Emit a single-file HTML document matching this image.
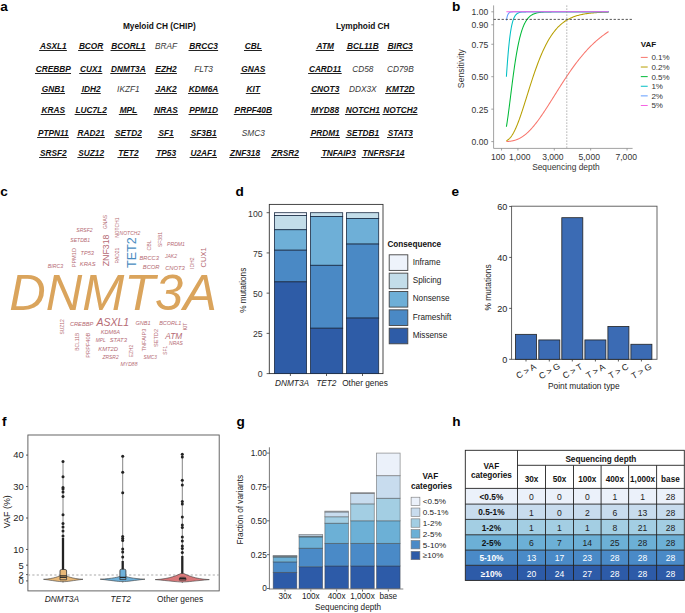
<!DOCTYPE html>
<html><head><meta charset="utf-8"><style>
html,body{margin:0;padding:0;background:#fff;width:685px;height:613px;overflow:hidden}
svg{display:block}
text{font-family:"Liberation Sans",sans-serif}
</style></head><body>
<svg width="685" height="613" viewBox="0 0 685 613">
<text x="0.3" y="10.9" font-size="13.6" font-weight="bold" fill="#000">a</text>
<text x="452" y="11" font-size="13.6" font-weight="bold" fill="#000">b</text>
<text x="0.3" y="196.2" font-size="13.6" font-weight="bold" fill="#000">c</text>
<text x="235.5" y="196.3" font-size="13.6" font-weight="bold" fill="#000">d</text>
<text x="451.6" y="195.6" font-size="13.6" font-weight="bold" fill="#000">e</text>
<text x="2.1" y="425.7" font-size="13.6" font-weight="bold" fill="#000">f</text>
<text x="236.4" y="425.7" font-size="13.6" font-weight="bold" fill="#000">g</text>
<text x="452.2" y="426.1" font-size="13.6" font-weight="bold" fill="#000">h</text>
<text x="53.30" y="49.00" font-size="8.3" font-weight="bold" font-style="italic" text-anchor="middle" fill="#111" >ASXL1</text>
<line x1="39.12" y1="50.50" x2="66.88" y2="50.50" stroke="#222" stroke-width="1.0" />
<text x="91.10" y="49.00" font-size="8.3" font-weight="bold" font-style="italic" text-anchor="middle" fill="#111" >BCOR</text>
<line x1="78.08" y1="50.50" x2="103.52" y2="50.50" stroke="#222" stroke-width="1.0" />
<text x="128.40" y="49.00" font-size="8.3" font-weight="bold" font-style="italic" text-anchor="middle" fill="#111" >BCORL1</text>
<line x1="110.54" y1="50.50" x2="145.66" y2="50.50" stroke="#222" stroke-width="1.0" />
<text x="166.10" y="48.97" font-size="8.3" font-weight="normal" font-style="italic" text-anchor="middle" fill="#3a3a3a" >BRAF</text>
<text x="203.60" y="49.00" font-size="8.3" font-weight="bold" font-style="italic" text-anchor="middle" fill="#111" >BRCC3</text>
<line x1="188.50" y1="50.50" x2="218.10" y2="50.50" stroke="#222" stroke-width="1.0" />
<text x="253.30" y="49.00" font-size="8.3" font-weight="bold" font-style="italic" text-anchor="middle" fill="#111" >CBL</text>
<line x1="243.97" y1="50.50" x2="262.03" y2="50.50" stroke="#222" stroke-width="1.0" />
<text x="53.30" y="72.00" font-size="8.3" font-weight="bold" font-style="italic" text-anchor="middle" fill="#111" >CREBBP</text>
<line x1="34.98" y1="73.50" x2="71.02" y2="73.50" stroke="#222" stroke-width="1.0" />
<text x="91.10" y="72.00" font-size="8.3" font-weight="bold" font-style="italic" text-anchor="middle" fill="#111" >CUX1</text>
<line x1="79.23" y1="73.50" x2="102.37" y2="73.50" stroke="#222" stroke-width="1.0" />
<text x="128.40" y="72.00" font-size="8.3" font-weight="bold" font-style="italic" text-anchor="middle" fill="#111" >DNMT3A</text>
<line x1="110.31" y1="73.50" x2="145.89" y2="73.50" stroke="#222" stroke-width="1.0" />
<text x="166.10" y="72.00" font-size="8.3" font-weight="bold" font-style="italic" text-anchor="middle" fill="#111" >EZH2</text>
<line x1="154.69" y1="73.50" x2="176.91" y2="73.50" stroke="#222" stroke-width="1.0" />
<text x="203.60" y="71.97" font-size="8.3" font-weight="normal" font-style="italic" text-anchor="middle" fill="#3a3a3a" >FLT3</text>
<text x="253.30" y="72.00" font-size="8.3" font-weight="bold" font-style="italic" text-anchor="middle" fill="#111" >GNAS</text>
<line x1="240.51" y1="73.50" x2="265.49" y2="73.50" stroke="#222" stroke-width="1.0" />
<text x="53.30" y="92.00" font-size="8.3" font-weight="bold" font-style="italic" text-anchor="middle" fill="#111" >GNB1</text>
<line x1="40.97" y1="93.50" x2="65.03" y2="93.50" stroke="#222" stroke-width="1.0" />
<text x="91.10" y="92.00" font-size="8.3" font-weight="bold" font-style="italic" text-anchor="middle" fill="#111" >IDH2</text>
<line x1="80.84" y1="93.50" x2="100.76" y2="93.50" stroke="#222" stroke-width="1.0" />
<text x="128.40" y="92.07" font-size="8.3" font-weight="normal" font-style="italic" text-anchor="middle" fill="#3a3a3a" >IKZF1</text>
<text x="166.10" y="92.00" font-size="8.3" font-weight="bold" font-style="italic" text-anchor="middle" fill="#111" >JAK2</text>
<line x1="154.69" y1="93.50" x2="176.91" y2="93.50" stroke="#222" stroke-width="1.0" />
<text x="203.60" y="92.00" font-size="8.3" font-weight="bold" font-style="italic" text-anchor="middle" fill="#111" >KDM6A</text>
<line x1="188.04" y1="93.50" x2="218.56" y2="93.50" stroke="#222" stroke-width="1.0" />
<text x="253.30" y="92.00" font-size="8.3" font-weight="bold" font-style="italic" text-anchor="middle" fill="#111" >KIT</text>
<line x1="245.81" y1="93.50" x2="260.19" y2="93.50" stroke="#222" stroke-width="1.0" />
<text x="53.30" y="113.00" font-size="8.3" font-weight="bold" font-style="italic" text-anchor="middle" fill="#111" >KRAS</text>
<line x1="40.74" y1="114.50" x2="65.26" y2="114.50" stroke="#222" stroke-width="1.0" />
<text x="91.10" y="113.00" font-size="8.3" font-weight="bold" font-style="italic" text-anchor="middle" fill="#111" >LUC7L2</text>
<line x1="74.62" y1="114.50" x2="106.98" y2="114.50" stroke="#222" stroke-width="1.0" />
<text x="128.40" y="113.00" font-size="8.3" font-weight="bold" font-style="italic" text-anchor="middle" fill="#111" >MPL</text>
<line x1="118.84" y1="114.50" x2="137.36" y2="114.50" stroke="#222" stroke-width="1.0" />
<text x="166.10" y="113.00" font-size="8.3" font-weight="bold" font-style="italic" text-anchor="middle" fill="#111" >NRAS</text>
<line x1="153.54" y1="114.50" x2="178.06" y2="114.50" stroke="#222" stroke-width="1.0" />
<text x="203.60" y="113.00" font-size="8.3" font-weight="bold" font-style="italic" text-anchor="middle" fill="#111" >PPM1D</text>
<line x1="188.50" y1="114.50" x2="218.10" y2="114.50" stroke="#222" stroke-width="1.0" />
<text x="253.30" y="113.00" font-size="8.3" font-weight="bold" font-style="italic" text-anchor="middle" fill="#111" >PRPF40B</text>
<line x1="233.82" y1="114.50" x2="272.18" y2="114.50" stroke="#222" stroke-width="1.0" />
<text x="53.30" y="136.00" font-size="8.3" font-weight="bold" font-style="italic" text-anchor="middle" fill="#111" >PTPN11</text>
<line x1="37.12" y1="137.50" x2="68.88" y2="137.50" stroke="#222" stroke-width="1.0" />
<text x="91.10" y="136.00" font-size="8.3" font-weight="bold" font-style="italic" text-anchor="middle" fill="#111" >RAD21</text>
<line x1="76.69" y1="137.50" x2="104.91" y2="137.50" stroke="#222" stroke-width="1.0" />
<text x="128.40" y="136.00" font-size="8.3" font-weight="bold" font-style="italic" text-anchor="middle" fill="#111" >SETD2</text>
<line x1="114.22" y1="137.50" x2="141.98" y2="137.50" stroke="#222" stroke-width="1.0" />
<text x="166.10" y="136.00" font-size="8.3" font-weight="bold" font-style="italic" text-anchor="middle" fill="#111" >SF1</text>
<line x1="157.69" y1="137.50" x2="173.91" y2="137.50" stroke="#222" stroke-width="1.0" />
<text x="203.60" y="136.00" font-size="8.3" font-weight="bold" font-style="italic" text-anchor="middle" fill="#111" >SF3B1</text>
<line x1="189.88" y1="137.50" x2="216.72" y2="137.50" stroke="#222" stroke-width="1.0" />
<text x="253.30" y="135.57" font-size="8.3" font-weight="normal" font-style="italic" text-anchor="middle" fill="#3a3a3a" >SMC3</text>
<text x="53.30" y="156.00" font-size="8.3" font-weight="bold" font-style="italic" text-anchor="middle" fill="#111" >SRSF2</text>
<line x1="39.12" y1="157.50" x2="66.88" y2="157.50" stroke="#222" stroke-width="1.0" />
<text x="91.10" y="156.00" font-size="8.3" font-weight="bold" font-style="italic" text-anchor="middle" fill="#111" >SUZ12</text>
<line x1="77.38" y1="157.50" x2="104.22" y2="157.50" stroke="#222" stroke-width="1.0" />
<text x="128.40" y="156.00" font-size="8.3" font-weight="bold" font-style="italic" text-anchor="middle" fill="#111" >TET2</text>
<line x1="117.45" y1="157.50" x2="138.75" y2="157.50" stroke="#222" stroke-width="1.0" />
<text x="166.10" y="156.00" font-size="8.3" font-weight="bold" font-style="italic" text-anchor="middle" fill="#111" >TP53</text>
<line x1="155.38" y1="157.50" x2="176.22" y2="157.50" stroke="#222" stroke-width="1.0" />
<text x="203.60" y="156.00" font-size="8.3" font-weight="bold" font-style="italic" text-anchor="middle" fill="#111" >U2AF1</text>
<line x1="189.65" y1="157.50" x2="216.95" y2="157.50" stroke="#222" stroke-width="1.0" />
<text x="245.10" y="156.00" font-size="8.3" font-weight="bold" font-style="italic" text-anchor="middle" fill="#111" >ZNF318</text>
<line x1="229.31" y1="157.50" x2="260.29" y2="157.50" stroke="#222" stroke-width="1.0" />
<text x="285.30" y="156.00" font-size="8.3" font-weight="bold" font-style="italic" text-anchor="middle" fill="#111" >ZRSR2</text>
<line x1="270.89" y1="157.50" x2="299.11" y2="157.50" stroke="#222" stroke-width="1.0" />
<text x="325.20" y="49.00" font-size="8.3" font-weight="bold" font-style="italic" text-anchor="middle" fill="#111" >ATM</text>
<line x1="315.72" y1="50.50" x2="334.08" y2="50.50" stroke="#222" stroke-width="1.0" />
<text x="362.80" y="49.00" font-size="8.3" font-weight="bold" font-style="italic" text-anchor="middle" fill="#111" >BCL11B</text>
<line x1="346.17" y1="50.50" x2="378.83" y2="50.50" stroke="#222" stroke-width="1.0" />
<text x="400.30" y="49.00" font-size="8.3" font-weight="bold" font-style="italic" text-anchor="middle" fill="#111" >BIRC3</text>
<line x1="387.05" y1="50.50" x2="412.95" y2="50.50" stroke="#222" stroke-width="1.0" />
<text x="325.20" y="72.00" font-size="8.3" font-weight="bold" font-style="italic" text-anchor="middle" fill="#111" >CARD11</text>
<line x1="308.10" y1="73.50" x2="341.70" y2="73.50" stroke="#222" stroke-width="1.0" />
<text x="362.80" y="71.97" font-size="8.3" font-weight="normal" font-style="italic" text-anchor="middle" fill="#3a3a3a" >CD58</text>
<text x="400.30" y="71.97" font-size="8.3" font-weight="normal" font-style="italic" text-anchor="middle" fill="#3a3a3a" >CD79B</text>
<text x="325.20" y="92.00" font-size="8.3" font-weight="bold" font-style="italic" text-anchor="middle" fill="#111" >CNOT3</text>
<line x1="310.33" y1="93.50" x2="339.47" y2="93.50" stroke="#222" stroke-width="1.0" />
<text x="362.80" y="92.07" font-size="8.3" font-weight="normal" font-style="italic" text-anchor="middle" fill="#3a3a3a" >DDX3X</text>
<text x="400.30" y="92.00" font-size="8.3" font-weight="bold" font-style="italic" text-anchor="middle" fill="#111" >KMT2D</text>
<line x1="385.21" y1="93.50" x2="414.79" y2="93.50" stroke="#222" stroke-width="1.0" />
<text x="325.20" y="113.00" font-size="8.3" font-weight="bold" font-style="italic" text-anchor="middle" fill="#111" >MYD88</text>
<line x1="310.56" y1="114.50" x2="339.24" y2="114.50" stroke="#222" stroke-width="1.0" />
<text x="362.80" y="113.00" font-size="8.3" font-weight="bold" font-style="italic" text-anchor="middle" fill="#111" >NOTCH1</text>
<line x1="344.94" y1="114.50" x2="380.06" y2="114.50" stroke="#222" stroke-width="1.0" />
<text x="400.30" y="113.00" font-size="8.3" font-weight="bold" font-style="italic" text-anchor="middle" fill="#111" >NOTCH2</text>
<line x1="382.44" y1="114.50" x2="417.56" y2="114.50" stroke="#222" stroke-width="1.0" />
<text x="325.20" y="136.00" font-size="8.3" font-weight="bold" font-style="italic" text-anchor="middle" fill="#111" >PRDM1</text>
<line x1="309.87" y1="137.50" x2="339.93" y2="137.50" stroke="#222" stroke-width="1.0" />
<text x="362.80" y="136.00" font-size="8.3" font-weight="bold" font-style="italic" text-anchor="middle" fill="#111" >SETDB1</text>
<line x1="345.63" y1="137.50" x2="379.37" y2="137.50" stroke="#222" stroke-width="1.0" />
<text x="400.30" y="136.00" font-size="8.3" font-weight="bold" font-style="italic" text-anchor="middle" fill="#111" >STAT3</text>
<line x1="386.97" y1="137.50" x2="413.03" y2="137.50" stroke="#222" stroke-width="1.0" />
<text x="338.70" y="156.00" font-size="8.3" font-weight="bold" font-style="italic" text-anchor="middle" fill="#111" >TNFAIP3</text>
<line x1="320.84" y1="157.50" x2="355.96" y2="157.50" stroke="#222" stroke-width="1.0" />
<text x="383.50" y="156.00" font-size="8.3" font-weight="bold" font-style="italic" text-anchor="middle" fill="#111" >TNFRSF14</text>
<line x1="361.72" y1="157.50" x2="404.68" y2="157.50" stroke="#222" stroke-width="1.0" />
<text x="159.30" y="29.07" font-size="8.3" font-weight="bold" font-style="normal" text-anchor="middle" fill="#111" >Myeloid CH (CHIP)</text>
<text x="362.75" y="28.97" font-size="8.3" font-weight="bold" font-style="normal" text-anchor="middle" fill="#111" >Lymphoid CH</text>
<line x1="493.60" y1="5.40" x2="493.60" y2="148.40" stroke="#8a8a8a" stroke-width="0.8" />
<line x1="493.60" y1="148.40" x2="632.60" y2="148.40" stroke="#8a8a8a" stroke-width="0.8" />
<line x1="491.30" y1="11.80" x2="493.60" y2="11.80" stroke="#8a8a8a" stroke-width="0.8" />
<text x="488.30" y="15.18" font-size="8.6" font-weight="normal" font-style="normal" text-anchor="end" fill="#333" >1.00</text>
<line x1="491.30" y1="24.78" x2="493.60" y2="24.78" stroke="#8a8a8a" stroke-width="0.8" />
<text x="488.30" y="28.16" font-size="8.6" font-weight="normal" font-style="normal" text-anchor="end" fill="#333" >0.90</text>
<line x1="491.30" y1="44.25" x2="493.60" y2="44.25" stroke="#8a8a8a" stroke-width="0.8" />
<text x="488.30" y="47.63" font-size="8.6" font-weight="normal" font-style="normal" text-anchor="end" fill="#333" >0.75</text>
<line x1="491.30" y1="76.70" x2="493.60" y2="76.70" stroke="#8a8a8a" stroke-width="0.8" />
<text x="488.30" y="80.08" font-size="8.6" font-weight="normal" font-style="normal" text-anchor="end" fill="#333" >0.50</text>
<line x1="491.30" y1="109.15" x2="493.60" y2="109.15" stroke="#8a8a8a" stroke-width="0.8" />
<text x="488.30" y="112.53" font-size="8.6" font-weight="normal" font-style="normal" text-anchor="end" fill="#333" >0.25</text>
<line x1="491.30" y1="141.60" x2="493.60" y2="141.60" stroke="#8a8a8a" stroke-width="0.8" />
<text x="488.30" y="144.98" font-size="8.6" font-weight="normal" font-style="normal" text-anchor="end" fill="#333" >0.00</text>
<line x1="501.54" y1="148.40" x2="501.54" y2="150.50" stroke="#8a8a8a" stroke-width="0.8" />
<text x="498.10" y="160.38" font-size="8.6" font-weight="normal" font-style="normal" text-anchor="middle" fill="#333" >100</text>
<line x1="517.91" y1="148.40" x2="517.91" y2="150.50" stroke="#8a8a8a" stroke-width="0.8" />
<text x="519.70" y="160.38" font-size="8.6" font-weight="normal" font-style="normal" text-anchor="middle" fill="#333" >1,000</text>
<line x1="554.29" y1="148.40" x2="554.29" y2="150.50" stroke="#8a8a8a" stroke-width="0.8" />
<text x="552.90" y="160.38" font-size="8.6" font-weight="normal" font-style="normal" text-anchor="middle" fill="#333" >3,000</text>
<line x1="590.67" y1="148.40" x2="590.67" y2="150.50" stroke="#8a8a8a" stroke-width="0.8" />
<text x="589.20" y="160.38" font-size="8.6" font-weight="normal" font-style="normal" text-anchor="middle" fill="#333" >5,000</text>
<line x1="627.05" y1="148.40" x2="627.05" y2="150.50" stroke="#8a8a8a" stroke-width="0.8" />
<text x="626.20" y="160.38" font-size="8.6" font-weight="normal" font-style="normal" text-anchor="middle" fill="#333" >7,000</text>
<text x="565.90" y="169.71" font-size="8.4" font-weight="normal" font-style="normal" text-anchor="middle" fill="#333" >Sequencing depth</text>
<text transform="translate(461.20,68.60) rotate(-90)" x="0" y="3.11" font-size="8.7" font-weight="normal" font-style="normal" text-anchor="middle" fill="#333" >Sensitivity</text>
<polyline points="506.40,141.53 506.58,141.52 506.76,141.51 506.95,141.50 507.13,141.49 507.31,141.48 507.49,141.47 507.67,141.46 507.86,141.45 508.04,141.44 508.22,141.42 508.40,141.41 508.58,141.39 508.76,141.38 508.95,141.36 509.13,141.34 509.31,141.33 509.49,141.31 509.67,141.29 509.86,141.27 510.04,141.24 510.22,141.22 510.40,141.20 510.58,141.17 510.77,141.15 510.95,141.12 511.13,141.09 511.31,141.06 511.49,141.03 511.68,141.00 511.86,140.97 512.04,140.93 512.22,140.90 512.40,140.86 512.58,140.83 512.77,140.79 512.95,140.75 513.13,140.71 513.31,140.67 513.49,140.62 513.68,140.58 513.86,140.53 514.04,140.48 514.22,140.44 514.40,140.39 514.59,140.33 514.77,140.28 514.95,140.23 515.13,140.17 515.31,140.12 515.50,140.06 515.68,140.00 515.86,139.94 516.04,139.87 516.22,139.81 516.40,139.74 516.59,139.67 516.77,139.61 516.95,139.53 517.13,139.46 517.31,139.39 517.50,139.31 517.68,139.24 517.86,139.16 518.04,139.08 518.22,139.00 518.41,138.91 518.59,138.83 518.77,138.74 518.95,138.66 519.13,138.57 519.31,138.47 519.50,138.38 519.68,138.29 519.86,138.19 520.04,138.09 520.22,137.99 520.41,137.89 520.59,137.79 520.77,137.69 520.95,137.58 521.13,137.47 521.32,137.36 521.50,137.25 521.68,137.14 521.86,137.02 522.04,136.91 522.23,136.79 522.41,136.67 522.59,136.55 522.77,136.42 522.95,136.30 523.13,136.17 523.32,136.04 523.50,135.92 523.68,135.78 523.86,135.65 524.04,135.52 524.23,135.38 524.41,135.24 524.59,135.10 524.77,134.96 524.95,134.82 525.14,134.67 525.32,134.52 525.50,134.38 525.68,134.23 525.86,134.07 526.05,133.92 526.23,133.77 526.41,133.61 526.59,133.45 526.77,133.29 526.95,133.13 527.14,132.97 527.86,132.30 528.59,131.60 529.32,130.88 530.05,130.14 530.77,129.37 531.50,128.58 532.23,127.76 532.96,126.92 533.68,126.06 534.41,125.18 535.14,124.28 535.87,123.36 536.60,122.42 537.32,121.46 538.05,120.48 538.78,119.49 539.51,118.48 540.23,117.46 540.96,116.42 541.69,115.37 542.42,114.31 543.14,113.23 543.87,112.14 544.60,111.05 545.33,109.94 546.05,108.82 546.78,107.70 547.51,106.57 548.24,105.43 548.96,104.29 549.69,103.14 550.42,101.99 551.15,100.83 551.88,99.67 552.60,98.51 553.33,97.35 554.06,96.19 554.79,95.03 555.51,93.86 556.24,92.70 556.97,91.54 557.70,90.38 558.42,89.23 559.15,88.08 559.88,86.93 560.61,85.78 561.33,84.64 562.06,83.51 562.79,82.38 563.52,81.26 564.24,80.14 564.97,79.03 565.70,77.93 566.43,76.84 567.15,75.75 567.88,74.67 568.61,73.60 569.34,72.54 570.06,71.49 570.79,70.45 571.52,69.42 572.25,68.39 572.98,67.38 573.70,66.38 574.43,65.39 575.16,64.41 575.89,63.44 576.61,62.48 577.34,61.53 578.07,60.59 578.80,59.67 579.52,58.75 580.25,57.85 580.98,56.96 581.71,56.08 582.43,55.21 583.16,54.35 583.89,53.51 584.62,52.68 585.34,51.85 586.07,51.04 586.80,50.25 587.53,49.46 588.25,48.69 588.98,47.93 589.71,47.18 590.44,46.44 591.17,45.71 591.89,45.00 592.62,44.29 593.35,43.60 594.08,42.92 594.80,42.25 595.53,41.59 596.26,40.95 596.99,40.31 597.71,39.69 598.44,39.07 599.17,38.47 599.90,37.88 600.62,37.30 601.35,36.73 602.08,36.17 602.81,35.62 603.53,35.08 604.26,34.55 604.99,34.03 605.72,33.52 606.44,33.02 607.17,32.53 607.90,32.05 608.63,31.58" fill="none" stroke="#F8766D" stroke-width="1.05"/>
<polyline points="506.40,140.72 506.58,140.64 506.76,140.55 506.95,140.45 507.13,140.35 507.31,140.24 507.49,140.13 507.67,140.01 507.86,139.89 508.04,139.76 508.22,139.63 508.40,139.48 508.58,139.34 508.76,139.18 508.95,139.02 509.13,138.86 509.31,138.68 509.49,138.50 509.67,138.32 509.86,138.12 510.04,137.92 510.22,137.72 510.40,137.50 510.58,137.28 510.77,137.06 510.95,136.82 511.13,136.58 511.31,136.34 511.49,136.08 511.68,135.82 511.86,135.56 512.04,135.28 512.22,135.00 512.40,134.71 512.58,134.42 512.77,134.12 512.95,133.81 513.13,133.50 513.31,133.18 513.49,132.85 513.68,132.52 513.86,132.18 514.04,131.83 514.22,131.48 514.40,131.12 514.59,130.75 514.77,130.38 514.95,130.00 515.13,129.62 515.31,129.23 515.50,128.84 515.68,128.43 515.86,128.03 516.04,127.61 516.22,127.20 516.40,126.77 516.59,126.34 516.77,125.91 516.95,125.47 517.13,125.02 517.31,124.57 517.50,124.12 517.68,123.66 517.86,123.19 518.04,122.73 518.22,122.25 518.41,121.77 518.59,121.29 518.77,120.80 518.95,120.31 519.13,119.82 519.31,119.32 519.50,118.81 519.68,118.30 519.86,117.79 520.04,117.28 520.22,116.76 520.41,116.24 520.59,115.71 520.77,115.19 520.95,114.65 521.13,114.12 521.32,113.58 521.50,113.04 521.68,112.50 521.86,111.95 522.04,111.40 522.23,110.85 522.41,110.30 522.59,109.74 522.77,109.19 522.95,108.63 523.13,108.07 523.32,107.50 523.50,106.94 523.68,106.37 523.86,105.80 524.04,105.23 524.23,104.66 524.41,104.09 524.59,103.51 524.77,102.94 524.95,102.36 525.14,101.79 525.32,101.21 525.50,100.63 525.68,100.05 525.86,99.47 526.05,98.89 526.23,98.31 526.41,97.73 526.59,97.15 526.77,96.57 526.95,95.99 527.14,95.40 527.86,93.08 528.59,90.76 529.32,88.45 530.05,86.15 530.77,83.88 531.50,81.62 532.23,79.39 532.96,77.19 533.68,75.02 534.41,72.89 535.14,70.79 535.87,68.73 536.60,66.70 537.32,64.72 538.05,62.79 538.78,60.89 539.51,59.05 540.23,57.25 540.96,55.49 541.69,53.78 542.42,52.12 543.14,50.51 543.87,48.94 544.60,47.42 545.33,45.95 546.05,44.52 546.78,43.14 547.51,41.81 548.24,40.52 548.96,39.27 549.69,38.07 550.42,36.91 551.15,35.79 551.88,34.72 552.60,33.68 553.33,32.69 554.06,31.73 554.79,30.81 555.51,29.93 556.24,29.08 556.97,28.26 557.70,27.48 558.42,26.73 559.15,26.02 559.88,25.33 560.61,24.67 561.33,24.04 562.06,23.44 562.79,22.87 563.52,22.32 564.24,21.79 564.97,21.29 565.70,20.81 566.43,20.36 567.15,19.92 567.88,19.51 568.61,19.11 569.34,18.73 570.06,18.38 570.79,18.03 571.52,17.71 572.25,17.40 572.98,17.10 573.70,16.82 574.43,16.56 575.16,16.30 575.89,16.06 576.61,15.83 577.34,15.62 578.07,15.41 578.80,15.22 579.52,15.03 580.25,14.85 580.98,14.69 581.71,14.53 582.43,14.38 583.16,14.24 583.89,14.10 584.62,13.97 585.34,13.85 586.07,13.74 586.80,13.63 587.53,13.53 588.25,13.43 588.98,13.34 589.71,13.25 590.44,13.17 591.17,13.09 591.89,13.02 592.62,12.95 593.35,12.88 594.08,12.82 594.80,12.76 595.53,12.70 596.26,12.65 596.99,12.60 597.71,12.56 598.44,12.51 599.17,12.47 599.90,12.43 600.62,12.39 601.35,12.36 602.08,12.33 602.81,12.30 603.53,12.27 604.26,12.24 604.99,12.21 605.72,12.19 606.44,12.17 607.17,12.14 607.90,12.12 608.63,12.10" fill="none" stroke="#B79F00" stroke-width="1.05"/>
<polyline points="506.40,126.75 506.58,125.67 506.76,124.55 506.95,123.40 507.13,122.23 507.31,121.02 507.49,119.79 507.67,118.53 507.86,117.25 508.04,115.95 508.22,114.63 508.40,113.28 508.58,111.92 508.76,110.55 508.95,109.16 509.13,107.76 509.31,106.34 509.49,104.92 509.67,103.49 509.86,102.05 510.04,100.60 510.22,99.15 510.40,97.70 510.58,96.25 510.77,94.79 510.95,93.34 511.13,91.89 511.31,90.44 511.49,89.00 511.68,87.56 511.86,86.13 512.04,84.70 512.22,83.28 512.40,81.88 512.58,80.48 512.77,79.09 512.95,77.71 513.13,76.35 513.31,75.00 513.49,73.66 513.68,72.33 513.86,71.02 514.04,69.73 514.22,68.45 514.40,67.18 514.59,65.93 514.77,64.70 514.95,63.48 515.13,62.29 515.31,61.11 515.50,59.94 515.68,58.80 515.86,57.67 516.04,56.56 516.22,55.47 516.40,54.39 516.59,53.34 516.77,52.30 516.95,51.29 517.13,50.29 517.31,49.31 517.50,48.34 517.68,47.40 517.86,46.47 518.04,45.57 518.22,44.68 518.41,43.81 518.59,42.95 518.77,42.12 518.95,41.30 519.13,40.50 519.31,39.72 519.50,38.95 519.68,38.20 519.86,37.47 520.04,36.75 520.22,36.06 520.41,35.37 520.59,34.70 520.77,34.05 520.95,33.42 521.13,32.80 521.32,32.19 521.50,31.60 521.68,31.02 521.86,30.46 522.04,29.91 522.23,29.38 522.41,28.86 522.59,28.35 522.77,27.86 522.95,27.38 523.13,26.91 523.32,26.45 523.50,26.01 523.68,25.58 523.86,25.16 524.04,24.75 524.23,24.35 524.41,23.96 524.59,23.58 524.77,23.22 524.95,22.86 525.14,22.52 525.32,22.18 525.50,21.85 525.68,21.53 525.86,21.23 526.05,20.93 526.23,20.63 526.41,20.35 526.59,20.08 526.77,19.81 526.95,19.55 527.14,19.30 527.86,18.37 528.59,17.55 529.32,16.82 530.05,16.18 530.77,15.61 531.50,15.12 532.23,14.68 532.96,14.30 533.68,13.97 534.41,13.68 535.14,13.43 535.87,13.21 536.60,13.02 537.32,12.85 538.05,12.70 538.78,12.58 539.51,12.47 540.23,12.38 540.96,12.30 541.69,12.23 542.42,12.16 543.14,12.11 543.87,12.07 544.60,12.03 545.33,12.00 546.05,11.97 546.78,11.94 547.51,11.92 548.24,11.90 548.96,11.89 549.69,11.88 550.42,11.86 551.15,11.86 551.88,11.85 552.60,11.84 553.33,11.83 554.06,11.83 554.79,11.82 555.51,11.82 556.24,11.82 556.97,11.82 557.70,11.81 558.42,11.81 559.15,11.81 559.88,11.81 560.61,11.81 561.33,11.81 562.06,11.80 562.79,11.80 563.52,11.80 564.24,11.80 564.97,11.80 565.70,11.80 566.43,11.80 567.15,11.80 567.88,11.80 568.61,11.80 569.34,11.80 570.06,11.80 570.79,11.80 571.52,11.80 572.25,11.80 572.98,11.80 573.70,11.80 574.43,11.80 575.16,11.80 575.89,11.80 576.61,11.80 577.34,11.80 578.07,11.80 578.80,11.80 579.52,11.80 580.25,11.80 580.98,11.80 581.71,11.80 582.43,11.80 583.16,11.80 583.89,11.80 584.62,11.80 585.34,11.80 586.07,11.80 586.80,11.80 587.53,11.80 588.25,11.80 588.98,11.80 589.71,11.80 590.44,11.80 591.17,11.80 591.89,11.80 592.62,11.80 593.35,11.80 594.08,11.80 594.80,11.80 595.53,11.80 596.26,11.80 596.99,11.80 597.71,11.80 598.44,11.80 599.17,11.80 599.90,11.80 600.62,11.80 601.35,11.80 602.08,11.80 602.81,11.80 603.53,11.80 604.26,11.80 604.99,11.80 605.72,11.80 606.44,11.80 607.17,11.80 607.90,11.80 608.63,11.80" fill="none" stroke="#00BA38" stroke-width="1.05"/>
<polyline points="506.40,76.76 506.58,74.06 506.76,71.41 506.95,68.83 507.13,66.31 507.31,63.85 507.49,61.46 507.67,59.14 507.86,56.89 508.04,54.71 508.22,52.61 508.40,50.59 508.58,48.63 508.76,46.75 508.95,44.94 509.13,43.21 509.31,41.54 509.49,39.95 509.67,38.42 509.86,36.97 510.04,35.58 510.22,34.25 510.40,32.98 510.58,31.78 510.77,30.63 510.95,29.54 511.13,28.50 511.31,27.52 511.49,26.59 511.68,25.70 511.86,24.87 512.04,24.08 512.22,23.33 512.40,22.62 512.58,21.95 512.77,21.32 512.95,20.72 513.13,20.16 513.31,19.63 513.49,19.13 513.68,18.66 513.86,18.22 514.04,17.80 514.22,17.41 514.40,17.05 514.59,16.70 514.77,16.38 514.95,16.07 515.13,15.79 515.31,15.52 515.50,15.27 515.68,15.04 515.86,14.82 516.04,14.61 516.22,14.42 516.40,14.24 516.59,14.07 516.77,13.92 516.95,13.77 517.13,13.63 517.31,13.51 517.50,13.39 517.68,13.28 517.86,13.17 518.04,13.07 518.22,12.98 518.41,12.90 518.59,12.82 518.77,12.75 518.95,12.68 519.13,12.62 519.31,12.56 519.50,12.50 519.68,12.45 519.86,12.41 520.04,12.36 520.22,12.32 520.41,12.28 520.59,12.25 520.77,12.21 520.95,12.18 521.13,12.16 521.32,12.13 521.50,12.10 521.68,12.08 521.86,12.06 522.04,12.04 522.23,12.02 522.41,12.01 522.59,11.99 522.77,11.98 522.95,11.96 523.13,11.95 523.32,11.94 523.50,11.93 523.68,11.92 523.86,11.91 524.04,11.90 524.23,11.89 524.41,11.89 524.59,11.88 524.77,11.87 524.95,11.87 525.14,11.86 525.32,11.86 525.50,11.85 525.68,11.85 525.86,11.85 526.05,11.84 526.23,11.84 526.41,11.84 526.59,11.83 526.77,11.83 526.95,11.83 527.14,11.83 527.86,11.82 528.59,11.81 529.32,11.81 530.05,11.81 530.77,11.80 531.50,11.80 532.23,11.80 532.96,11.80 533.68,11.80 534.41,11.80 535.14,11.80 535.87,11.80 536.60,11.80 537.32,11.80 538.05,11.80 538.78,11.80 539.51,11.80 540.23,11.80 540.96,11.80 541.69,11.80 542.42,11.80 543.14,11.80 543.87,11.80 544.60,11.80 545.33,11.80 546.05,11.80 546.78,11.80 547.51,11.80 548.24,11.80 548.96,11.80 549.69,11.80 550.42,11.80 551.15,11.80 551.88,11.80 552.60,11.80 553.33,11.80 554.06,11.80 554.79,11.80 555.51,11.80 556.24,11.80 556.97,11.80 557.70,11.80 558.42,11.80 559.15,11.80 559.88,11.80 560.61,11.80 561.33,11.80 562.06,11.80 562.79,11.80 563.52,11.80 564.24,11.80 564.97,11.80 565.70,11.80 566.43,11.80 567.15,11.80 567.88,11.80 568.61,11.80 569.34,11.80 570.06,11.80 570.79,11.80 571.52,11.80 572.25,11.80 572.98,11.80 573.70,11.80 574.43,11.80 575.16,11.80 575.89,11.80 576.61,11.80 577.34,11.80 578.07,11.80 578.80,11.80 579.52,11.80 580.25,11.80 580.98,11.80 581.71,11.80 582.43,11.80 583.16,11.80 583.89,11.80 584.62,11.80 585.34,11.80 586.07,11.80 586.80,11.80 587.53,11.80 588.25,11.80 588.98,11.80 589.71,11.80 590.44,11.80 591.17,11.80 591.89,11.80 592.62,11.80 593.35,11.80 594.08,11.80 594.80,11.80 595.53,11.80 596.26,11.80 596.99,11.80 597.71,11.80 598.44,11.80 599.17,11.80 599.90,11.80 600.62,11.80 601.35,11.80 602.08,11.80 602.81,11.80 603.53,11.80 604.26,11.80 604.99,11.80 605.72,11.80 606.44,11.80 607.17,11.80 607.90,11.80 608.63,11.80" fill="none" stroke="#00BFC4" stroke-width="1.05"/>
<polyline points="506.40,20.32 506.58,19.28 506.76,18.35 506.95,17.53 507.13,16.80 507.31,16.16 507.49,15.60 507.67,15.11 507.86,14.67 508.04,14.30 508.22,13.96 508.40,13.67 508.58,13.42 508.76,13.20 508.95,13.01 509.13,12.84 509.31,12.70 509.49,12.58 509.67,12.47 509.86,12.37 510.04,12.29 510.22,12.22 510.40,12.16 510.58,12.11 510.77,12.07 510.95,12.03 511.13,12.00 511.31,11.97 511.49,11.94 511.68,11.92 511.86,11.90 512.04,11.89 512.22,11.88 512.40,11.86 512.58,11.86 512.77,11.85 512.95,11.84 513.13,11.83 513.31,11.83 513.49,11.82 513.68,11.82 513.86,11.82 514.04,11.81 514.22,11.81 514.40,11.81 514.59,11.81 514.77,11.81 514.95,11.81 515.13,11.81 515.31,11.80 515.50,11.80 515.68,11.80 515.86,11.80 516.04,11.80 516.22,11.80 516.40,11.80 516.59,11.80 516.77,11.80 516.95,11.80 517.13,11.80 517.31,11.80 517.50,11.80 517.68,11.80 517.86,11.80 518.04,11.80 518.22,11.80 518.41,11.80 518.59,11.80 518.77,11.80 518.95,11.80 519.13,11.80 519.31,11.80 519.50,11.80 519.68,11.80 519.86,11.80 520.04,11.80 520.22,11.80 520.41,11.80 520.59,11.80 520.77,11.80 520.95,11.80 521.13,11.80 521.32,11.80 521.50,11.80 521.68,11.80 521.86,11.80 522.04,11.80 522.23,11.80 522.41,11.80 522.59,11.80 522.77,11.80 522.95,11.80 523.13,11.80 523.32,11.80 523.50,11.80 523.68,11.80 523.86,11.80 524.04,11.80 524.23,11.80 524.41,11.80 524.59,11.80 524.77,11.80 524.95,11.80 525.14,11.80 525.32,11.80 525.50,11.80 525.68,11.80 525.86,11.80 526.05,11.80 526.23,11.80 526.41,11.80 526.59,11.80 526.77,11.80 526.95,11.80 527.14,11.80 527.86,11.80 528.59,11.80 529.32,11.80 530.05,11.80 530.77,11.80 531.50,11.80 532.23,11.80 532.96,11.80 533.68,11.80 534.41,11.80 535.14,11.80 535.87,11.80 536.60,11.80 537.32,11.80 538.05,11.80 538.78,11.80 539.51,11.80 540.23,11.80 540.96,11.80 541.69,11.80 542.42,11.80 543.14,11.80 543.87,11.80 544.60,11.80 545.33,11.80 546.05,11.80 546.78,11.80 547.51,11.80 548.24,11.80 548.96,11.80 549.69,11.80 550.42,11.80 551.15,11.80 551.88,11.80 552.60,11.80 553.33,11.80 554.06,11.80 554.79,11.80 555.51,11.80 556.24,11.80 556.97,11.80 557.70,11.80 558.42,11.80 559.15,11.80 559.88,11.80 560.61,11.80 561.33,11.80 562.06,11.80 562.79,11.80 563.52,11.80 564.24,11.80 564.97,11.80 565.70,11.80 566.43,11.80 567.15,11.80 567.88,11.80 568.61,11.80 569.34,11.80 570.06,11.80 570.79,11.80 571.52,11.80 572.25,11.80 572.98,11.80 573.70,11.80 574.43,11.80 575.16,11.80 575.89,11.80 576.61,11.80 577.34,11.80 578.07,11.80 578.80,11.80 579.52,11.80 580.25,11.80 580.98,11.80 581.71,11.80 582.43,11.80 583.16,11.80 583.89,11.80 584.62,11.80 585.34,11.80 586.07,11.80 586.80,11.80 587.53,11.80 588.25,11.80 588.98,11.80 589.71,11.80 590.44,11.80 591.17,11.80 591.89,11.80 592.62,11.80 593.35,11.80 594.08,11.80 594.80,11.80 595.53,11.80 596.26,11.80 596.99,11.80 597.71,11.80 598.44,11.80 599.17,11.80 599.90,11.80 600.62,11.80 601.35,11.80 602.08,11.80 602.81,11.80 603.53,11.80 604.26,11.80 604.99,11.80 605.72,11.80 606.44,11.80 607.17,11.80 607.90,11.80 608.63,11.80" fill="none" stroke="#619CFF" stroke-width="1.05"/>
<polyline points="506.40,11.80 506.58,11.80 506.76,11.80 506.95,11.80 507.13,11.80 507.31,11.80 507.49,11.80 507.67,11.80 507.86,11.80 508.04,11.80 508.22,11.80 508.40,11.80 508.58,11.80 508.76,11.80 508.95,11.80 509.13,11.80 509.31,11.80 509.49,11.80 509.67,11.80 509.86,11.80 510.04,11.80 510.22,11.80 510.40,11.80 510.58,11.80 510.77,11.80 510.95,11.80 511.13,11.80 511.31,11.80 511.49,11.80 511.68,11.80 511.86,11.80 512.04,11.80 512.22,11.80 512.40,11.80 512.58,11.80 512.77,11.80 512.95,11.80 513.13,11.80 513.31,11.80 513.49,11.80 513.68,11.80 513.86,11.80 514.04,11.80 514.22,11.80 514.40,11.80 514.59,11.80 514.77,11.80 514.95,11.80 515.13,11.80 515.31,11.80 515.50,11.80 515.68,11.80 515.86,11.80 516.04,11.80 516.22,11.80 516.40,11.80 516.59,11.80 516.77,11.80 516.95,11.80 517.13,11.80 517.31,11.80 517.50,11.80 517.68,11.80 517.86,11.80 518.04,11.80 518.22,11.80 518.41,11.80 518.59,11.80 518.77,11.80 518.95,11.80 519.13,11.80 519.31,11.80 519.50,11.80 519.68,11.80 519.86,11.80 520.04,11.80 520.22,11.80 520.41,11.80 520.59,11.80 520.77,11.80 520.95,11.80 521.13,11.80 521.32,11.80 521.50,11.80 521.68,11.80 521.86,11.80 522.04,11.80 522.23,11.80 522.41,11.80 522.59,11.80 522.77,11.80 522.95,11.80 523.13,11.80 523.32,11.80 523.50,11.80 523.68,11.80 523.86,11.80 524.04,11.80 524.23,11.80 524.41,11.80 524.59,11.80 524.77,11.80 524.95,11.80 525.14,11.80 525.32,11.80 525.50,11.80 525.68,11.80 525.86,11.80 526.05,11.80 526.23,11.80 526.41,11.80 526.59,11.80 526.77,11.80 526.95,11.80 527.14,11.80 527.86,11.80 528.59,11.80 529.32,11.80 530.05,11.80 530.77,11.80 531.50,11.80 532.23,11.80 532.96,11.80 533.68,11.80 534.41,11.80 535.14,11.80 535.87,11.80 536.60,11.80 537.32,11.80 538.05,11.80 538.78,11.80 539.51,11.80 540.23,11.80 540.96,11.80 541.69,11.80 542.42,11.80 543.14,11.80 543.87,11.80 544.60,11.80 545.33,11.80 546.05,11.80 546.78,11.80 547.51,11.80 548.24,11.80 548.96,11.80 549.69,11.80 550.42,11.80 551.15,11.80 551.88,11.80 552.60,11.80 553.33,11.80 554.06,11.80 554.79,11.80 555.51,11.80 556.24,11.80 556.97,11.80 557.70,11.80 558.42,11.80 559.15,11.80 559.88,11.80 560.61,11.80 561.33,11.80 562.06,11.80 562.79,11.80 563.52,11.80 564.24,11.80 564.97,11.80 565.70,11.80 566.43,11.80 567.15,11.80 567.88,11.80 568.61,11.80 569.34,11.80 570.06,11.80 570.79,11.80 571.52,11.80 572.25,11.80 572.98,11.80 573.70,11.80 574.43,11.80 575.16,11.80 575.89,11.80 576.61,11.80 577.34,11.80 578.07,11.80 578.80,11.80 579.52,11.80 580.25,11.80 580.98,11.80 581.71,11.80 582.43,11.80 583.16,11.80 583.89,11.80 584.62,11.80 585.34,11.80 586.07,11.80 586.80,11.80 587.53,11.80 588.25,11.80 588.98,11.80 589.71,11.80 590.44,11.80 591.17,11.80 591.89,11.80 592.62,11.80 593.35,11.80 594.08,11.80 594.80,11.80 595.53,11.80 596.26,11.80 596.99,11.80 597.71,11.80 598.44,11.80 599.17,11.80 599.90,11.80 600.62,11.80 601.35,11.80 602.08,11.80 602.81,11.80 603.53,11.80 604.26,11.80 604.99,11.80 605.72,11.80 606.44,11.80 607.17,11.80 607.90,11.80 608.63,11.80" fill="none" stroke="#F564E3" stroke-width="1.05"/>
<line x1="493.60" y1="19.40" x2="632.60" y2="19.40" stroke="#444" stroke-width="0.9" stroke-dasharray="2.3,1.7"/>
<line x1="566.80" y1="5.40" x2="566.80" y2="148.40" stroke="#999" stroke-width="0.8" stroke-dasharray="1.5,1.5"/>
<text x="648.50" y="47.06" font-size="8" font-weight="bold" font-style="normal" text-anchor="middle" fill="#111" >VAF</text>
<line x1="640.80" y1="57.40" x2="647.70" y2="57.40" stroke="#F8766D" stroke-width="1" />
<text x="651.40" y="60.26" font-size="8" font-weight="normal" font-style="normal" text-anchor="start" fill="#333" >0.1%</text>
<line x1="640.80" y1="67.02" x2="647.70" y2="67.02" stroke="#B79F00" stroke-width="1" />
<text x="651.40" y="69.88" font-size="8" font-weight="normal" font-style="normal" text-anchor="start" fill="#333" >0.2%</text>
<line x1="640.80" y1="76.64" x2="647.70" y2="76.64" stroke="#00BA38" stroke-width="1" />
<text x="651.40" y="79.50" font-size="8" font-weight="normal" font-style="normal" text-anchor="start" fill="#333" >0.5%</text>
<line x1="640.80" y1="86.26" x2="647.70" y2="86.26" stroke="#00BFC4" stroke-width="1" />
<text x="651.40" y="89.12" font-size="8" font-weight="normal" font-style="normal" text-anchor="start" fill="#333" >1%</text>
<line x1="640.80" y1="95.88" x2="647.70" y2="95.88" stroke="#619CFF" stroke-width="1" />
<text x="651.40" y="98.74" font-size="8" font-weight="normal" font-style="normal" text-anchor="start" fill="#333" >2%</text>
<line x1="640.80" y1="105.50" x2="647.70" y2="105.50" stroke="#F564E3" stroke-width="1" />
<text x="651.40" y="108.36" font-size="8" font-weight="normal" font-style="normal" text-anchor="start" fill="#333" >5%</text>
<text x="84.50" y="231.93" font-size="5.1" font-weight="normal" font-style="italic" text-anchor="middle" fill="#B56A73" >SRSF2</text>
<text x="80.20" y="241.53" font-size="5.1" font-weight="normal" font-style="italic" text-anchor="middle" fill="#B56A73" >SETDB1</text>
<text x="87.30" y="254.60" font-size="5.6" font-weight="normal" font-style="italic" text-anchor="middle" fill="#B56A73" >TP53</text>
<text x="87.70" y="266.08" font-size="5.8" font-weight="normal" font-style="italic" text-anchor="middle" fill="#B56A73" >KRAS</text>
<text x="55.40" y="267.86" font-size="5.2" font-weight="normal" font-style="italic" text-anchor="middle" fill="#B56A73" >BIRC3</text>
<text x="129.90" y="234.79" font-size="5" font-weight="normal" font-style="italic" text-anchor="middle" fill="#B56A73" >NOTCH2</text>
<text x="176.00" y="246.33" font-size="5.1" font-weight="normal" font-style="italic" text-anchor="middle" fill="#B56A73" >PRDM1</text>
<text x="149.20" y="259.64" font-size="5.7" font-weight="normal" font-style="italic" text-anchor="middle" fill="#B56A73" >BRCC3</text>
<text x="171.00" y="257.69" font-size="5" font-weight="normal" font-style="italic" text-anchor="middle" fill="#B56A73" >JAK2</text>
<text x="151.20" y="268.88" font-size="5.8" font-weight="normal" font-style="italic" text-anchor="middle" fill="#B56A73" >BCOR</text>
<text x="175.00" y="269.78" font-size="5.8" font-weight="normal" font-style="italic" text-anchor="middle" fill="#B56A73" >CNOT3</text>
<text x="81.60" y="326.44" font-size="5.7" font-weight="normal" font-style="italic" text-anchor="middle" fill="#B56A73" >CREBBP</text>
<text x="143.00" y="325.40" font-size="5.6" font-weight="normal" font-style="italic" text-anchor="middle" fill="#B56A73" >GNB1</text>
<text x="170.20" y="325.37" font-size="5.5" font-weight="normal" font-style="italic" text-anchor="middle" fill="#B56A73" >BCORL1</text>
<text x="110.40" y="333.60" font-size="5.6" font-weight="normal" font-style="italic" text-anchor="middle" fill="#B56A73" >KDM6A</text>
<text x="100.80" y="341.92" font-size="4.8" font-weight="normal" font-style="italic" text-anchor="middle" fill="#B56A73" >MPL</text>
<text x="118.30" y="342.28" font-size="5.8" font-weight="normal" font-style="italic" text-anchor="middle" fill="#B56A73" >STAT3</text>
<text x="108.20" y="350.98" font-size="5.8" font-weight="normal" font-style="italic" text-anchor="middle" fill="#B56A73" >KMT2D</text>
<text x="110.60" y="359.45" font-size="4.9" font-weight="normal" font-style="italic" text-anchor="middle" fill="#B56A73" >ZRSR2</text>
<text x="150.20" y="358.82" font-size="4.8" font-weight="normal" font-style="italic" text-anchor="middle" fill="#B56A73" >SMC3</text>
<text x="129.00" y="365.53" font-size="5.1" font-weight="normal" font-style="italic" text-anchor="middle" fill="#B56A73" >MYD88</text>
<text x="176.00" y="345.19" font-size="5" font-weight="normal" font-style="italic" text-anchor="middle" fill="#B56A73" >NRAS</text>
<text x="112.85" y="326.06" font-size="10.5" font-weight="normal" font-style="italic" text-anchor="middle" fill="#B56A73" >ASXL1</text>
<text x="173.70" y="338.67" font-size="8.3" font-weight="normal" font-style="italic" text-anchor="middle" fill="#B56A73" >ATM</text>
<text transform="translate(105.70,222.00) rotate(-90)" x="0" y="1.75" font-size="4.9" font-weight="normal" font-style="normal" text-anchor="middle" fill="#B56A73" >GNAS</text>
<text transform="translate(106.20,250.40) rotate(-90)" x="0" y="3.15" font-size="8.8" font-weight="normal" font-style="normal" text-anchor="middle" fill="#B56A73" >ZNF318</text>
<text transform="translate(116.80,227.70) rotate(-90)" x="0" y="1.75" font-size="4.9" font-weight="normal" font-style="normal" text-anchor="middle" fill="#B56A73" >NOTCH1</text>
<text transform="translate(117.70,255.70) rotate(-90)" x="0" y="1.75" font-size="4.9" font-weight="normal" font-style="normal" text-anchor="middle" fill="#B56A73" >RAD21</text>
<text transform="translate(149.00,245.40) rotate(-90)" x="0" y="1.86" font-size="5.2" font-weight="normal" font-style="normal" text-anchor="middle" fill="#B56A73" >CBL</text>
<text transform="translate(160.10,239.50) rotate(-90)" x="0" y="1.75" font-size="4.9" font-weight="normal" font-style="normal" text-anchor="middle" fill="#B56A73" >SF3B1</text>
<text transform="translate(192.00,263.20) rotate(-90)" x="0" y="1.79" font-size="5.0" font-weight="normal" font-style="normal" text-anchor="middle" fill="#B56A73" >IDH2</text>
<text transform="translate(203.30,257.40) rotate(-90)" x="0" y="2.69" font-size="7.5" font-weight="normal" font-style="normal" text-anchor="middle" fill="#B56A73" >CUX1</text>
<text transform="translate(73.90,257.70) rotate(-90)" x="0" y="2.00" font-size="5.6" font-weight="normal" font-style="normal" text-anchor="middle" fill="#B56A73" >PPM1D</text>
<text transform="translate(62.70,327.00) rotate(-90)" x="0" y="1.75" font-size="4.9" font-weight="normal" font-style="normal" text-anchor="middle" fill="#B56A73" >SUZ12</text>
<text transform="translate(77.20,341.80) rotate(-90)" x="0" y="1.75" font-size="4.9" font-weight="normal" font-style="normal" text-anchor="middle" fill="#B56A73" >BCL11B</text>
<text transform="translate(87.80,345.20) rotate(-90)" x="0" y="2.00" font-size="5.6" font-weight="normal" font-style="normal" text-anchor="middle" fill="#B56A73" >PRPF40B</text>
<text transform="translate(131.30,351.00) rotate(-90)" x="0" y="1.72" font-size="4.8" font-weight="normal" font-style="normal" text-anchor="middle" fill="#B56A73" >EZH2</text>
<text transform="translate(143.60,340.00) rotate(-90)" x="0" y="2.00" font-size="5.6" font-weight="normal" font-style="normal" text-anchor="middle" fill="#B56A73" >TNFAIP3</text>
<text transform="translate(156.30,338.00) rotate(-90)" x="0" y="2.00" font-size="5.6" font-weight="normal" font-style="normal" text-anchor="middle" fill="#B56A73" >SETD2</text>
<text transform="translate(164.90,350.30) rotate(-90)" x="0" y="1.72" font-size="4.8" font-weight="normal" font-style="normal" text-anchor="middle" fill="#B56A73" >SF1</text>
<text transform="translate(184.90,326.50) rotate(-90)" x="0" y="1.86" font-size="5.2" font-weight="normal" font-style="normal" text-anchor="middle" fill="#B56A73" >KIT</text>
<text transform="translate(131.10,252.60) rotate(-90)" x="0" y="4.51" font-size="12.6" font-weight="normal" font-style="normal" text-anchor="middle" fill="#4A8CC0" >TET2</text>
<text x="113.00" y="310.38" font-size="50.5" font-weight="normal" font-style="italic" text-anchor="middle" fill="#DAA45C" >DNMT3A</text>
<rect x="269.30" y="204.40" width="113.70" height="169.20" fill="none" stroke="#333" stroke-width="0.9" />
<line x1="266.60" y1="373.60" x2="269.30" y2="373.60" stroke="#333" stroke-width="0.8" />
<text x="262.60" y="377.41" font-size="8.7" font-weight="normal" font-style="normal" text-anchor="end" fill="#333" >0</text>
<line x1="266.60" y1="333.38" x2="269.30" y2="333.38" stroke="#333" stroke-width="0.8" />
<text x="262.60" y="337.19" font-size="8.7" font-weight="normal" font-style="normal" text-anchor="end" fill="#333" >25</text>
<line x1="266.60" y1="293.15" x2="269.30" y2="293.15" stroke="#333" stroke-width="0.8" />
<text x="262.60" y="296.96" font-size="8.7" font-weight="normal" font-style="normal" text-anchor="end" fill="#333" >50</text>
<line x1="266.60" y1="252.93" x2="269.30" y2="252.93" stroke="#333" stroke-width="0.8" />
<text x="262.60" y="256.74" font-size="8.7" font-weight="normal" font-style="normal" text-anchor="end" fill="#333" >75</text>
<line x1="266.60" y1="212.70" x2="269.30" y2="212.70" stroke="#333" stroke-width="0.8" />
<text x="262.60" y="216.51" font-size="8.7" font-weight="normal" font-style="normal" text-anchor="end" fill="#333" >100</text>
<rect x="274.40" y="212.70" width="32.20" height="2.74" fill="#EEF3FB" stroke="#1c2c44" stroke-width="0.8" />
<rect x="274.40" y="215.44" width="32.20" height="14.32" fill="#C3DDE9" stroke="#1c2c44" stroke-width="0.8" />
<rect x="274.40" y="229.76" width="32.20" height="20.43" fill="#6EAFD7" stroke="#1c2c44" stroke-width="0.8" />
<rect x="274.40" y="250.19" width="32.20" height="31.70" fill="#4A89C5" stroke="#1c2c44" stroke-width="0.8" />
<rect x="274.40" y="281.89" width="32.20" height="91.71" fill="#2E5CA7" stroke="#1c2c44" stroke-width="0.8" />
<rect x="310.50" y="212.70" width="32.20" height="3.86" fill="#C3DDE9" stroke="#1c2c44" stroke-width="0.8" />
<rect x="310.50" y="216.56" width="32.20" height="48.75" fill="#6EAFD7" stroke="#1c2c44" stroke-width="0.8" />
<rect x="310.50" y="265.31" width="32.20" height="62.91" fill="#4A89C5" stroke="#1c2c44" stroke-width="0.8" />
<rect x="310.50" y="328.23" width="32.20" height="45.37" fill="#2E5CA7" stroke="#1c2c44" stroke-width="0.8" />
<rect x="346.50" y="212.70" width="32.20" height="5.79" fill="#C3DDE9" stroke="#1c2c44" stroke-width="0.8" />
<rect x="346.50" y="218.49" width="32.20" height="25.58" fill="#6EAFD7" stroke="#1c2c44" stroke-width="0.8" />
<rect x="346.50" y="244.08" width="32.20" height="74.01" fill="#4A89C5" stroke="#1c2c44" stroke-width="0.8" />
<rect x="346.50" y="318.09" width="32.20" height="55.51" fill="#2E5CA7" stroke="#1c2c44" stroke-width="0.8" />
<line x1="290.40" y1="373.60" x2="290.40" y2="376.00" stroke="#333" stroke-width="0.8" />
<line x1="326.50" y1="373.60" x2="326.50" y2="376.00" stroke="#333" stroke-width="0.8" />
<line x1="362.50" y1="373.60" x2="362.50" y2="376.00" stroke="#333" stroke-width="0.8" />
<text x="292.00" y="385.67" font-size="8.3" font-weight="normal" font-style="italic" text-anchor="middle" fill="#222" >DNMT3A</text>
<text x="326.30" y="385.67" font-size="8.3" font-weight="normal" font-style="italic" text-anchor="middle" fill="#222" >TET2</text>
<text x="365.00" y="385.67" font-size="8.3" font-weight="normal" font-style="normal" text-anchor="middle" fill="#222" >Other genes</text>
<text transform="translate(242.80,290.30) rotate(-90)" x="0" y="2.94" font-size="8.2" font-weight="normal" font-style="normal" text-anchor="middle" fill="#222" >% mutations</text>
<text x="387.40" y="247.04" font-size="8.2" font-weight="bold" font-style="normal" text-anchor="start" fill="#111" >Consequence</text>
<rect x="389.20" y="254.80" width="18.60" height="15.60" fill="#EEF3FB" stroke="#444" stroke-width="0.9" />
<text x="412.70" y="264.74" font-size="8.2" font-weight="normal" font-style="normal" text-anchor="start" fill="#222" >Inframe</text>
<rect x="389.20" y="273.15" width="18.60" height="15.60" fill="#C3DDE9" stroke="#444" stroke-width="0.9" />
<text x="412.70" y="283.09" font-size="8.2" font-weight="normal" font-style="normal" text-anchor="start" fill="#222" >Splicing</text>
<rect x="389.20" y="291.50" width="18.60" height="15.60" fill="#6EAFD7" stroke="#444" stroke-width="0.9" />
<text x="412.70" y="301.44" font-size="8.2" font-weight="normal" font-style="normal" text-anchor="start" fill="#222" >Nonsense</text>
<rect x="389.20" y="309.85" width="18.60" height="15.60" fill="#4A89C5" stroke="#444" stroke-width="0.9" />
<text x="412.70" y="319.79" font-size="8.2" font-weight="normal" font-style="normal" text-anchor="start" fill="#222" >Frameshift</text>
<rect x="389.20" y="328.20" width="18.60" height="15.60" fill="#2E5CA7" stroke="#444" stroke-width="0.9" />
<text x="412.70" y="338.14" font-size="8.2" font-weight="normal" font-style="normal" text-anchor="start" fill="#222" >Missense</text>
<rect x="511.60" y="206.20" width="145.40" height="153.10" fill="none" stroke="#555" stroke-width="0.9" />
<line x1="509.20" y1="359.30" x2="511.60" y2="359.30" stroke="#333" stroke-width="0.8" />
<text x="507.40" y="363.16" font-size="9.1" font-weight="normal" font-style="normal" text-anchor="end" fill="#222" >0</text>
<line x1="509.20" y1="308.36" x2="511.60" y2="308.36" stroke="#333" stroke-width="0.8" />
<text x="507.40" y="312.22" font-size="9.1" font-weight="normal" font-style="normal" text-anchor="end" fill="#222" >20</text>
<line x1="509.20" y1="257.42" x2="511.60" y2="257.42" stroke="#333" stroke-width="0.8" />
<text x="507.40" y="261.28" font-size="9.1" font-weight="normal" font-style="normal" text-anchor="end" fill="#222" >40</text>
<line x1="509.20" y1="206.48" x2="511.60" y2="206.48" stroke="#333" stroke-width="0.8" />
<text x="507.40" y="210.34" font-size="9.1" font-weight="normal" font-style="normal" text-anchor="end" fill="#222" >60</text>
<rect x="515.50" y="334.34" width="21.00" height="24.96" fill="#3B6BB4" stroke="#222" stroke-width="0.8" />
<line x1="526.00" y1="359.30" x2="526.00" y2="361.50" stroke="#333" stroke-width="0.8" />
<text transform="translate(526.00,371.00) rotate(-30)" x="0" y="3.11" font-size="8.7" font-weight="normal" font-style="normal" text-anchor="middle" fill="#222" >C &gt; A</text>
<rect x="538.80" y="339.94" width="21.00" height="19.36" fill="#3B6BB4" stroke="#222" stroke-width="0.8" />
<line x1="549.30" y1="359.30" x2="549.30" y2="361.50" stroke="#333" stroke-width="0.8" />
<text transform="translate(549.30,371.00) rotate(-30)" x="0" y="3.11" font-size="8.7" font-weight="normal" font-style="normal" text-anchor="middle" fill="#222" >C &gt; G</text>
<rect x="561.80" y="217.69" width="21.00" height="141.61" fill="#3B6BB4" stroke="#222" stroke-width="0.8" />
<line x1="572.30" y1="359.30" x2="572.30" y2="361.50" stroke="#333" stroke-width="0.8" />
<text transform="translate(572.30,371.00) rotate(-30)" x="0" y="3.11" font-size="8.7" font-weight="normal" font-style="normal" text-anchor="middle" fill="#222" >C &gt; T</text>
<rect x="584.90" y="339.94" width="21.00" height="19.36" fill="#3B6BB4" stroke="#222" stroke-width="0.8" />
<line x1="595.40" y1="359.30" x2="595.40" y2="361.50" stroke="#333" stroke-width="0.8" />
<text transform="translate(595.40,371.00) rotate(-30)" x="0" y="3.11" font-size="8.7" font-weight="normal" font-style="normal" text-anchor="middle" fill="#222" >T &gt; A</text>
<rect x="607.90" y="326.44" width="21.00" height="32.86" fill="#3B6BB4" stroke="#222" stroke-width="0.8" />
<line x1="618.40" y1="359.30" x2="618.40" y2="361.50" stroke="#333" stroke-width="0.8" />
<text transform="translate(618.40,371.00) rotate(-30)" x="0" y="3.11" font-size="8.7" font-weight="normal" font-style="normal" text-anchor="middle" fill="#222" >T &gt; C</text>
<rect x="630.90" y="344.27" width="21.00" height="15.03" fill="#3B6BB4" stroke="#222" stroke-width="0.8" />
<line x1="641.40" y1="359.30" x2="641.40" y2="361.50" stroke="#333" stroke-width="0.8" />
<text transform="translate(641.40,371.00) rotate(-30)" x="0" y="3.11" font-size="8.7" font-weight="normal" font-style="normal" text-anchor="middle" fill="#222" >T &gt; G</text>
<text x="583.80" y="389.41" font-size="8.4" font-weight="normal" font-style="normal" text-anchor="middle" fill="#222" >Point mutation type</text>
<text transform="translate(487.80,287.40) rotate(-90)" x="0" y="3.01" font-size="8.4" font-weight="normal" font-style="normal" text-anchor="middle" fill="#222" >% mutations</text>
<rect x="27.90" y="435.00" width="191.30" height="155.90" fill="none" stroke="#555" stroke-width="0.9" />
<line x1="26.00" y1="580.90" x2="27.90" y2="580.90" stroke="#333" stroke-width="0.8" />
<text x="23.80" y="584.27" font-size="9.4" font-weight="normal" font-style="normal" text-anchor="end" fill="#222" >0</text>
<line x1="26.00" y1="574.61" x2="27.90" y2="574.61" stroke="#333" stroke-width="0.8" />
<text x="23.80" y="577.98" font-size="9.4" font-weight="normal" font-style="normal" text-anchor="end" fill="#222" >2</text>
<line x1="26.00" y1="565.17" x2="27.90" y2="565.17" stroke="#333" stroke-width="0.8" />
<text x="23.80" y="568.54" font-size="9.4" font-weight="normal" font-style="normal" text-anchor="end" fill="#222" >5</text>
<line x1="26.00" y1="549.45" x2="27.90" y2="549.45" stroke="#333" stroke-width="0.8" />
<text x="23.80" y="552.82" font-size="9.4" font-weight="normal" font-style="normal" text-anchor="end" fill="#222" >10</text>
<line x1="26.00" y1="518.00" x2="27.90" y2="518.00" stroke="#333" stroke-width="0.8" />
<text x="23.80" y="521.37" font-size="9.4" font-weight="normal" font-style="normal" text-anchor="end" fill="#222" >20</text>
<line x1="26.00" y1="486.55" x2="27.90" y2="486.55" stroke="#333" stroke-width="0.8" />
<text x="23.80" y="489.92" font-size="9.4" font-weight="normal" font-style="normal" text-anchor="end" fill="#222" >30</text>
<line x1="26.00" y1="455.10" x2="27.90" y2="455.10" stroke="#333" stroke-width="0.8" />
<text x="23.80" y="458.47" font-size="9.4" font-weight="normal" font-style="normal" text-anchor="end" fill="#222" >40</text>
<text transform="translate(6.50,511.70) rotate(-90)" x="0" y="3.19" font-size="8.9" font-weight="normal" font-style="normal" text-anchor="middle" fill="#222" >VAF (%)</text>
<line x1="27.90" y1="575.01" x2="219.20" y2="575.01" stroke="#aaa" stroke-width="1.1" stroke-dasharray="2.2,2.2"/>
<line x1="63.00" y1="461.39" x2="63.00" y2="569.50" stroke="#666" stroke-width="0.8" />
<path d="M43.50,579.30 C54.23,578.70 59.00,576.20 61.50,575.00 L64.50,575.00 C67.00,576.20 72.00,578.70 83.00,579.30 C73.00,580.50 68.00,581.70 63.00,581.70 C58.00,581.70 53.25,580.50 43.50,579.30 Z" fill="#E8B878" stroke="#3a3a3a" stroke-width="0.6"/>
<line x1="63.00" y1="581.70" x2="63.00" y2="582.50" stroke="#333" stroke-width="0.8" />
<path d="M60.00,579.80 L60.00,571.00 Q60.00,569.50 61.50,569.50 L65.10,569.50 Q66.60,569.50 66.60,571.00 L66.60,579.80 Z" fill="#E8B878" stroke="#333" stroke-width="0.8"/>
<line x1="60.00" y1="575.80" x2="66.60" y2="575.80" stroke="#222" stroke-width="1.0" />
<line x1="60.00" y1="577.30" x2="66.60" y2="577.30" stroke="#222" stroke-width="1.2" />
<line x1="63.00" y1="538.00" x2="63.00" y2="569.50" stroke="#222" stroke-width="2.3" />
<circle cx="63.00" cy="461.50" r="1.5" fill="#222"/>
<circle cx="63.00" cy="476.80" r="1.5" fill="#222"/>
<circle cx="63.00" cy="487.50" r="1.5" fill="#222"/>
<circle cx="63.00" cy="489.00" r="1.5" fill="#222"/>
<circle cx="63.00" cy="492.00" r="1.5" fill="#222"/>
<circle cx="63.00" cy="496.50" r="1.5" fill="#222"/>
<circle cx="63.00" cy="514.70" r="1.5" fill="#222"/>
<circle cx="63.00" cy="523.40" r="1.5" fill="#222"/>
<circle cx="63.00" cy="527.00" r="1.5" fill="#222"/>
<circle cx="63.00" cy="531.00" r="1.5" fill="#222"/>
<circle cx="63.00" cy="536.00" r="1.5" fill="#222"/>
<line x1="122.70" y1="455.10" x2="122.70" y2="569.20" stroke="#666" stroke-width="0.8" />
<path d="M100.20,579.20 C112.58,578.60 118.70,577.00 121.20,575.80 L124.20,575.80 C126.70,577.00 132.74,578.60 145.00,579.20 C133.85,580.40 127.70,581.60 122.70,581.60 C117.70,581.60 111.45,580.40 100.20,579.20 Z" fill="#6FB1DA" stroke="#3a3a3a" stroke-width="0.6"/>
<line x1="122.70" y1="581.60" x2="122.70" y2="582.40" stroke="#333" stroke-width="0.8" />
<path d="M119.90,579.60 L119.90,570.70 Q119.90,569.20 121.40,569.20 L124.40,569.20 Q125.90,569.20 125.90,570.70 L125.90,579.60 Z" fill="#6FB1DA" stroke="#333" stroke-width="0.8"/>
<line x1="119.90" y1="577.40" x2="125.90" y2="577.40" stroke="#222" stroke-width="1.3" />
<line x1="122.70" y1="561.00" x2="122.70" y2="569.20" stroke="#222" stroke-width="2.3" />
<circle cx="122.70" cy="456.30" r="1.5" fill="#222"/>
<circle cx="122.70" cy="472.30" r="1.5" fill="#222"/>
<circle cx="122.70" cy="492.80" r="1.5" fill="#222"/>
<circle cx="122.70" cy="536.60" r="1.5" fill="#222"/>
<circle cx="122.70" cy="538.50" r="1.5" fill="#222"/>
<circle cx="122.70" cy="540.50" r="1.5" fill="#222"/>
<circle cx="122.70" cy="549.10" r="1.5" fill="#222"/>
<circle cx="122.70" cy="552.00" r="1.5" fill="#222"/>
<circle cx="122.70" cy="557.00" r="1.5" fill="#222"/>
<line x1="182.30" y1="455.10" x2="182.30" y2="573.50" stroke="#666" stroke-width="0.8" />
<path d="M155.20,579.60 C170.10,579.00 178.30,574.70 180.80,573.50 L183.80,573.50 C186.30,574.70 194.45,579.00 209.30,579.60 C195.80,580.80 187.30,582.00 182.30,582.00 C177.30,582.00 168.75,580.80 155.20,579.60 Z" fill="#D9787A" stroke="#3a3a3a" stroke-width="0.6"/>
<line x1="182.30" y1="582.00" x2="182.30" y2="582.80" stroke="#333" stroke-width="0.8" />
<path d="M179.40,580.10 L179.40,578.80 Q179.40,577.30 180.90,577.30 L184.40,577.30 Q185.90,577.30 185.90,578.80 L185.90,580.10 Z" fill="#D9787A" stroke="#333" stroke-width="0.8"/>
<line x1="179.40" y1="578.60" x2="185.90" y2="578.60" stroke="#222" stroke-width="1.4" />
<line x1="182.30" y1="556.00" x2="182.30" y2="573.50" stroke="#222" stroke-width="2.3" />
<circle cx="182.30" cy="454.30" r="1.5" fill="#222"/>
<circle cx="182.30" cy="457.00" r="1.5" fill="#222"/>
<circle cx="182.30" cy="480.20" r="1.5" fill="#222"/>
<circle cx="182.30" cy="485.00" r="1.5" fill="#222"/>
<circle cx="182.30" cy="501.50" r="1.5" fill="#222"/>
<circle cx="182.30" cy="504.00" r="1.5" fill="#222"/>
<circle cx="182.30" cy="517.00" r="1.5" fill="#222"/>
<circle cx="182.30" cy="525.00" r="1.5" fill="#222"/>
<circle cx="182.30" cy="527.50" r="1.5" fill="#222"/>
<circle cx="182.30" cy="537.00" r="1.5" fill="#222"/>
<circle cx="182.30" cy="541.00" r="1.5" fill="#222"/>
<circle cx="182.30" cy="546.00" r="1.5" fill="#222"/>
<circle cx="182.30" cy="548.50" r="1.5" fill="#222"/>
<circle cx="182.30" cy="552.60" r="1.5" fill="#222"/>
<text x="61.90" y="602.21" font-size="8.4" font-weight="normal" font-style="italic" text-anchor="middle" fill="#222" >DNMT3A</text>
<text x="120.80" y="602.21" font-size="8.4" font-weight="normal" font-style="italic" text-anchor="middle" fill="#222" >TET2</text>
<text x="180.10" y="602.21" font-size="8.4" font-weight="normal" font-style="normal" text-anchor="middle" fill="#222" >Other genes</text>
<line x1="269.40" y1="447.30" x2="269.40" y2="589.50" stroke="#555" stroke-width="0.8" />
<line x1="269.40" y1="589.00" x2="403.30" y2="589.00" stroke="#666" stroke-width="0.8" />
<line x1="267.00" y1="453.10" x2="269.40" y2="453.10" stroke="#444" stroke-width="0.8" />
<text x="266.80" y="456.07" font-size="8.3" font-weight="normal" font-style="normal" text-anchor="end" fill="#222" >1.00</text>
<line x1="267.00" y1="486.95" x2="269.40" y2="486.95" stroke="#444" stroke-width="0.8" />
<text x="266.80" y="489.92" font-size="8.3" font-weight="normal" font-style="normal" text-anchor="end" fill="#222" >0.75</text>
<line x1="267.00" y1="520.80" x2="269.40" y2="520.80" stroke="#444" stroke-width="0.8" />
<text x="266.80" y="523.77" font-size="8.3" font-weight="normal" font-style="normal" text-anchor="end" fill="#222" >0.50</text>
<line x1="267.00" y1="554.65" x2="269.40" y2="554.65" stroke="#444" stroke-width="0.8" />
<text x="266.80" y="557.62" font-size="8.3" font-weight="normal" font-style="normal" text-anchor="end" fill="#222" >0.25</text>
<line x1="267.00" y1="588.50" x2="269.40" y2="588.50" stroke="#444" stroke-width="0.8" />
<text x="266.80" y="591.47" font-size="8.3" font-weight="normal" font-style="normal" text-anchor="end" fill="#222" >0</text>
<rect x="273.20" y="572.38" width="23.60" height="16.12" fill="#2D5BA8" stroke="#333" stroke-width="0.8" stroke-opacity="0.5"/>
<rect x="273.20" y="561.90" width="23.60" height="10.48" fill="#4A8AC7" stroke="#333" stroke-width="0.8" stroke-opacity="0.5"/>
<rect x="273.20" y="557.07" width="23.60" height="4.84" fill="#6CB0D6" stroke="#333" stroke-width="0.8" stroke-opacity="0.5"/>
<rect x="273.20" y="556.26" width="23.60" height="0.81" fill="#A3CEE3" stroke="#333" stroke-width="0.8" stroke-opacity="0.5"/>
<rect x="273.20" y="555.46" width="23.60" height="0.81" fill="#C8DCEE" stroke="#333" stroke-width="0.8" stroke-opacity="0.5"/>
<line x1="285.00" y1="589.50" x2="285.00" y2="591.50" stroke="#444" stroke-width="0.8" />
<text x="285.00" y="599.34" font-size="8.2" font-weight="normal" font-style="normal" text-anchor="middle" fill="#222" >30x</text>
<rect x="299.03" y="566.74" width="23.60" height="21.76" fill="#2D5BA8" stroke="#333" stroke-width="0.8" stroke-opacity="0.5"/>
<rect x="299.03" y="548.20" width="23.60" height="18.54" fill="#4A8AC7" stroke="#333" stroke-width="0.8" stroke-opacity="0.5"/>
<rect x="299.03" y="536.92" width="23.60" height="11.28" fill="#6CB0D6" stroke="#333" stroke-width="0.8" stroke-opacity="0.5"/>
<rect x="299.03" y="536.11" width="23.60" height="0.81" fill="#A3CEE3" stroke="#333" stroke-width="0.8" stroke-opacity="0.5"/>
<rect x="299.03" y="534.50" width="23.60" height="1.61" fill="#C8DCEE" stroke="#333" stroke-width="0.8" stroke-opacity="0.5"/>
<line x1="310.83" y1="589.50" x2="310.83" y2="591.50" stroke="#444" stroke-width="0.8" />
<text x="310.83" y="599.34" font-size="8.2" font-weight="normal" font-style="normal" text-anchor="middle" fill="#222" >100x</text>
<rect x="324.86" y="565.93" width="23.60" height="22.57" fill="#2D5BA8" stroke="#333" stroke-width="0.8" stroke-opacity="0.5"/>
<rect x="324.86" y="543.37" width="23.60" height="22.57" fill="#4A8AC7" stroke="#333" stroke-width="0.8" stroke-opacity="0.5"/>
<rect x="324.86" y="523.22" width="23.60" height="20.15" fill="#6CB0D6" stroke="#333" stroke-width="0.8" stroke-opacity="0.5"/>
<rect x="324.86" y="516.77" width="23.60" height="6.45" fill="#A3CEE3" stroke="#333" stroke-width="0.8" stroke-opacity="0.5"/>
<rect x="324.86" y="511.93" width="23.60" height="4.84" fill="#C8DCEE" stroke="#333" stroke-width="0.8" stroke-opacity="0.5"/>
<rect x="324.86" y="511.13" width="23.60" height="0.81" fill="#EBF1FA" stroke="#333" stroke-width="0.8" stroke-opacity="0.5"/>
<line x1="336.66" y1="589.50" x2="336.66" y2="591.50" stroke="#444" stroke-width="0.8" />
<text x="336.66" y="599.34" font-size="8.2" font-weight="normal" font-style="normal" text-anchor="middle" fill="#222" >400x</text>
<rect x="350.69" y="565.93" width="23.60" height="22.57" fill="#2D5BA8" stroke="#333" stroke-width="0.8" stroke-opacity="0.5"/>
<rect x="350.69" y="543.37" width="23.60" height="22.57" fill="#4A8AC7" stroke="#333" stroke-width="0.8" stroke-opacity="0.5"/>
<rect x="350.69" y="520.80" width="23.60" height="22.57" fill="#6CB0D6" stroke="#333" stroke-width="0.8" stroke-opacity="0.5"/>
<rect x="350.69" y="503.88" width="23.60" height="16.92" fill="#A3CEE3" stroke="#333" stroke-width="0.8" stroke-opacity="0.5"/>
<rect x="350.69" y="493.40" width="23.60" height="10.48" fill="#C8DCEE" stroke="#333" stroke-width="0.8" stroke-opacity="0.5"/>
<rect x="350.69" y="492.59" width="23.60" height="0.81" fill="#EBF1FA" stroke="#333" stroke-width="0.8" stroke-opacity="0.5"/>
<line x1="362.49" y1="589.50" x2="362.49" y2="591.50" stroke="#444" stroke-width="0.8" />
<text x="362.49" y="599.34" font-size="8.2" font-weight="normal" font-style="normal" text-anchor="middle" fill="#222" >1,000x</text>
<rect x="376.52" y="565.93" width="23.60" height="22.57" fill="#2D5BA8" stroke="#333" stroke-width="0.8" stroke-opacity="0.5"/>
<rect x="376.52" y="543.37" width="23.60" height="22.57" fill="#4A8AC7" stroke="#333" stroke-width="0.8" stroke-opacity="0.5"/>
<rect x="376.52" y="520.80" width="23.60" height="22.57" fill="#6CB0D6" stroke="#333" stroke-width="0.8" stroke-opacity="0.5"/>
<rect x="376.52" y="498.23" width="23.60" height="22.57" fill="#A3CEE3" stroke="#333" stroke-width="0.8" stroke-opacity="0.5"/>
<rect x="376.52" y="475.67" width="23.60" height="22.57" fill="#C8DCEE" stroke="#333" stroke-width="0.8" stroke-opacity="0.5"/>
<rect x="376.52" y="453.10" width="23.60" height="22.57" fill="#EBF1FA" stroke="#333" stroke-width="0.8" stroke-opacity="0.5"/>
<line x1="388.32" y1="589.50" x2="388.32" y2="591.50" stroke="#444" stroke-width="0.8" />
<text x="388.32" y="599.34" font-size="8.2" font-weight="normal" font-style="normal" text-anchor="middle" fill="#222" >base</text>
<text x="348.10" y="610.24" font-size="8.2" font-weight="normal" font-style="normal" text-anchor="middle" fill="#222" >Sequencing depth</text>
<text transform="translate(240.10,509.80) rotate(-90)" x="0" y="2.94" font-size="8.2" font-weight="normal" font-style="normal" text-anchor="middle" fill="#222" >Fraction of variants</text>
<text x="430.30" y="479.24" font-size="8.2" font-weight="bold" font-style="normal" text-anchor="middle" fill="#111" >VAF</text>
<text x="431.50" y="489.34" font-size="8.2" font-weight="bold" font-style="normal" text-anchor="middle" fill="#111" >categories</text>
<rect x="411.10" y="497.20" width="8.80" height="8.40" fill="#EBF1FA" stroke="#777" stroke-width="0.6" />
<text x="422.80" y="504.30" font-size="8.1" font-weight="normal" font-style="normal" text-anchor="start" fill="#222" >&lt;0.5%</text>
<rect x="411.10" y="508.02" width="8.80" height="8.40" fill="#C8DCEE" stroke="#777" stroke-width="0.6" />
<text x="422.80" y="515.12" font-size="8.1" font-weight="normal" font-style="normal" text-anchor="start" fill="#222" >0.5-1%</text>
<rect x="411.10" y="518.84" width="8.80" height="8.40" fill="#A3CEE3" stroke="#777" stroke-width="0.6" />
<text x="422.80" y="525.94" font-size="8.1" font-weight="normal" font-style="normal" text-anchor="start" fill="#222" >1-2%</text>
<rect x="411.10" y="529.66" width="8.80" height="8.40" fill="#6CB0D6" stroke="#777" stroke-width="0.6" />
<text x="422.80" y="536.76" font-size="8.1" font-weight="normal" font-style="normal" text-anchor="start" fill="#222" >2-5%</text>
<rect x="411.10" y="540.48" width="8.80" height="8.40" fill="#4A8AC7" stroke="#777" stroke-width="0.6" />
<text x="422.80" y="547.58" font-size="8.1" font-weight="normal" font-style="normal" text-anchor="start" fill="#222" >5-10%</text>
<rect x="411.10" y="551.30" width="8.80" height="8.40" fill="#2D5BA8" stroke="#777" stroke-width="0.6" />
<text x="422.80" y="558.40" font-size="8.1" font-weight="normal" font-style="normal" text-anchor="start" fill="#222" >≥10%</text>
<rect x="465.30" y="488.40" width="219.00" height="15.70" fill="#EBF1FA" stroke="none" stroke-width="1" />
<rect x="465.30" y="504.10" width="219.00" height="15.30" fill="#C8DCEE" stroke="none" stroke-width="1" />
<rect x="465.30" y="519.40" width="219.00" height="15.40" fill="#A3CEE3" stroke="none" stroke-width="1" />
<rect x="465.30" y="534.80" width="219.00" height="15.30" fill="#6CB0D6" stroke="none" stroke-width="1" />
<rect x="465.30" y="550.10" width="219.00" height="15.20" fill="#4A8AC7" stroke="none" stroke-width="1" />
<rect x="465.30" y="565.30" width="219.00" height="15.10" fill="#2D5BA8" stroke="none" stroke-width="1" />
<text x="491.40" y="499.92" font-size="8.3" font-weight="bold" font-style="normal" text-anchor="middle" fill="#111" >&lt;0.5%</text>
<text x="531.50" y="500.03" font-size="8.6" font-weight="normal" font-style="normal" text-anchor="middle" fill="#222" >0</text>
<text x="559.50" y="500.03" font-size="8.6" font-weight="normal" font-style="normal" text-anchor="middle" fill="#222" >0</text>
<text x="587.30" y="500.03" font-size="8.6" font-weight="normal" font-style="normal" text-anchor="middle" fill="#222" >0</text>
<text x="614.85" y="500.03" font-size="8.6" font-weight="normal" font-style="normal" text-anchor="middle" fill="#222" >1</text>
<text x="642.60" y="500.03" font-size="8.6" font-weight="normal" font-style="normal" text-anchor="middle" fill="#222" >1</text>
<text x="670.45" y="500.03" font-size="8.6" font-weight="normal" font-style="normal" text-anchor="middle" fill="#222" >28</text>
<text x="491.40" y="515.42" font-size="8.3" font-weight="bold" font-style="normal" text-anchor="middle" fill="#111" >0.5-1%</text>
<text x="531.50" y="515.53" font-size="8.6" font-weight="normal" font-style="normal" text-anchor="middle" fill="#222" >1</text>
<text x="559.50" y="515.53" font-size="8.6" font-weight="normal" font-style="normal" text-anchor="middle" fill="#222" >0</text>
<text x="587.30" y="515.53" font-size="8.6" font-weight="normal" font-style="normal" text-anchor="middle" fill="#222" >2</text>
<text x="614.85" y="515.53" font-size="8.6" font-weight="normal" font-style="normal" text-anchor="middle" fill="#222" >6</text>
<text x="642.60" y="515.53" font-size="8.6" font-weight="normal" font-style="normal" text-anchor="middle" fill="#222" >13</text>
<text x="670.45" y="515.53" font-size="8.6" font-weight="normal" font-style="normal" text-anchor="middle" fill="#222" >28</text>
<text x="491.40" y="530.77" font-size="8.3" font-weight="bold" font-style="normal" text-anchor="middle" fill="#111" >1-2%</text>
<text x="531.50" y="530.88" font-size="8.6" font-weight="normal" font-style="normal" text-anchor="middle" fill="#222" >1</text>
<text x="559.50" y="530.88" font-size="8.6" font-weight="normal" font-style="normal" text-anchor="middle" fill="#222" >1</text>
<text x="587.30" y="530.88" font-size="8.6" font-weight="normal" font-style="normal" text-anchor="middle" fill="#222" >1</text>
<text x="614.85" y="530.88" font-size="8.6" font-weight="normal" font-style="normal" text-anchor="middle" fill="#222" >8</text>
<text x="642.60" y="530.88" font-size="8.6" font-weight="normal" font-style="normal" text-anchor="middle" fill="#222" >21</text>
<text x="670.45" y="530.88" font-size="8.6" font-weight="normal" font-style="normal" text-anchor="middle" fill="#222" >28</text>
<text x="491.40" y="546.12" font-size="8.3" font-weight="bold" font-style="normal" text-anchor="middle" fill="#111" >2-5%</text>
<text x="531.50" y="546.23" font-size="8.6" font-weight="normal" font-style="normal" text-anchor="middle" fill="#222" >6</text>
<text x="559.50" y="546.23" font-size="8.6" font-weight="normal" font-style="normal" text-anchor="middle" fill="#222" >7</text>
<text x="587.30" y="546.23" font-size="8.6" font-weight="normal" font-style="normal" text-anchor="middle" fill="#222" >14</text>
<text x="614.85" y="546.23" font-size="8.6" font-weight="normal" font-style="normal" text-anchor="middle" fill="#222" >25</text>
<text x="642.60" y="546.23" font-size="8.6" font-weight="normal" font-style="normal" text-anchor="middle" fill="#222" >28</text>
<text x="670.45" y="546.23" font-size="8.6" font-weight="normal" font-style="normal" text-anchor="middle" fill="#222" >28</text>
<text x="491.40" y="561.37" font-size="8.3" font-weight="bold" font-style="normal" text-anchor="middle" fill="#fff" >5-10%</text>
<text x="531.50" y="561.48" font-size="8.6" font-weight="normal" font-style="normal" text-anchor="middle" fill="#fff" >13</text>
<text x="559.50" y="561.48" font-size="8.6" font-weight="normal" font-style="normal" text-anchor="middle" fill="#fff" >17</text>
<text x="587.30" y="561.48" font-size="8.6" font-weight="normal" font-style="normal" text-anchor="middle" fill="#fff" >23</text>
<text x="614.85" y="561.48" font-size="8.6" font-weight="normal" font-style="normal" text-anchor="middle" fill="#fff" >28</text>
<text x="642.60" y="561.48" font-size="8.6" font-weight="normal" font-style="normal" text-anchor="middle" fill="#fff" >28</text>
<text x="670.45" y="561.48" font-size="8.6" font-weight="normal" font-style="normal" text-anchor="middle" fill="#fff" >28</text>
<text x="491.40" y="576.52" font-size="8.3" font-weight="bold" font-style="normal" text-anchor="middle" fill="#fff" >≥10%</text>
<text x="531.50" y="576.63" font-size="8.6" font-weight="normal" font-style="normal" text-anchor="middle" fill="#fff" >20</text>
<text x="559.50" y="576.63" font-size="8.6" font-weight="normal" font-style="normal" text-anchor="middle" fill="#fff" >24</text>
<text x="587.30" y="576.63" font-size="8.6" font-weight="normal" font-style="normal" text-anchor="middle" fill="#fff" >27</text>
<text x="614.85" y="576.63" font-size="8.6" font-weight="normal" font-style="normal" text-anchor="middle" fill="#fff" >28</text>
<text x="642.60" y="576.63" font-size="8.6" font-weight="normal" font-style="normal" text-anchor="middle" fill="#fff" >28</text>
<text x="670.45" y="576.63" font-size="8.6" font-weight="normal" font-style="normal" text-anchor="middle" fill="#fff" >28</text>
<line x1="465.30" y1="504.10" x2="684.30" y2="504.10" stroke="#222" stroke-width="0.9" />
<line x1="465.30" y1="519.40" x2="684.30" y2="519.40" stroke="#222" stroke-width="0.9" />
<line x1="465.30" y1="534.80" x2="684.30" y2="534.80" stroke="#222" stroke-width="0.9" />
<line x1="465.30" y1="550.10" x2="684.30" y2="550.10" stroke="#222" stroke-width="0.9" />
<line x1="465.30" y1="565.30" x2="684.30" y2="565.30" stroke="#222" stroke-width="0.9" />
<line x1="465.30" y1="488.40" x2="684.30" y2="488.40" stroke="#222" stroke-width="0.9" />
<line x1="517.50" y1="465.30" x2="684.30" y2="465.30" stroke="#222" stroke-width="0.9" />
<line x1="545.50" y1="465.30" x2="545.50" y2="580.40" stroke="#222" stroke-width="0.9" />
<line x1="573.50" y1="465.30" x2="573.50" y2="580.40" stroke="#222" stroke-width="0.9" />
<line x1="601.10" y1="465.30" x2="601.10" y2="580.40" stroke="#222" stroke-width="0.9" />
<line x1="628.60" y1="465.30" x2="628.60" y2="580.40" stroke="#222" stroke-width="0.9" />
<line x1="656.60" y1="465.30" x2="656.60" y2="580.40" stroke="#222" stroke-width="0.9" />
<line x1="517.50" y1="450.30" x2="517.50" y2="580.40" stroke="#222" stroke-width="0.9" />
<rect x="465.30" y="450.30" width="219.00" height="130.10" fill="none" stroke="#222" stroke-width="0.9" />
<text x="491.40" y="468.94" font-size="8.2" font-weight="bold" font-style="normal" text-anchor="middle" fill="#111" >VAF</text>
<text x="491.40" y="478.34" font-size="8.2" font-weight="bold" font-style="normal" text-anchor="middle" fill="#111" >categories</text>
<text x="600.90" y="461.84" font-size="8.2" font-weight="bold" font-style="normal" text-anchor="middle" fill="#111" >Sequencing depth</text>
<text x="531.50" y="481.54" font-size="8.2" font-weight="bold" font-style="normal" text-anchor="middle" fill="#111" >30x</text>
<text x="559.50" y="481.54" font-size="8.2" font-weight="bold" font-style="normal" text-anchor="middle" fill="#111" >50x</text>
<text x="587.30" y="481.54" font-size="8.2" font-weight="bold" font-style="normal" text-anchor="middle" fill="#111" >100x</text>
<text x="614.85" y="481.54" font-size="8.2" font-weight="bold" font-style="normal" text-anchor="middle" fill="#111" >400x</text>
<text x="642.60" y="481.54" font-size="8.2" font-weight="bold" font-style="normal" text-anchor="middle" fill="#111" >1,000x</text>
<text x="670.45" y="481.54" font-size="8.2" font-weight="bold" font-style="normal" text-anchor="middle" fill="#111" >base</text>
</svg>
</body></html>
